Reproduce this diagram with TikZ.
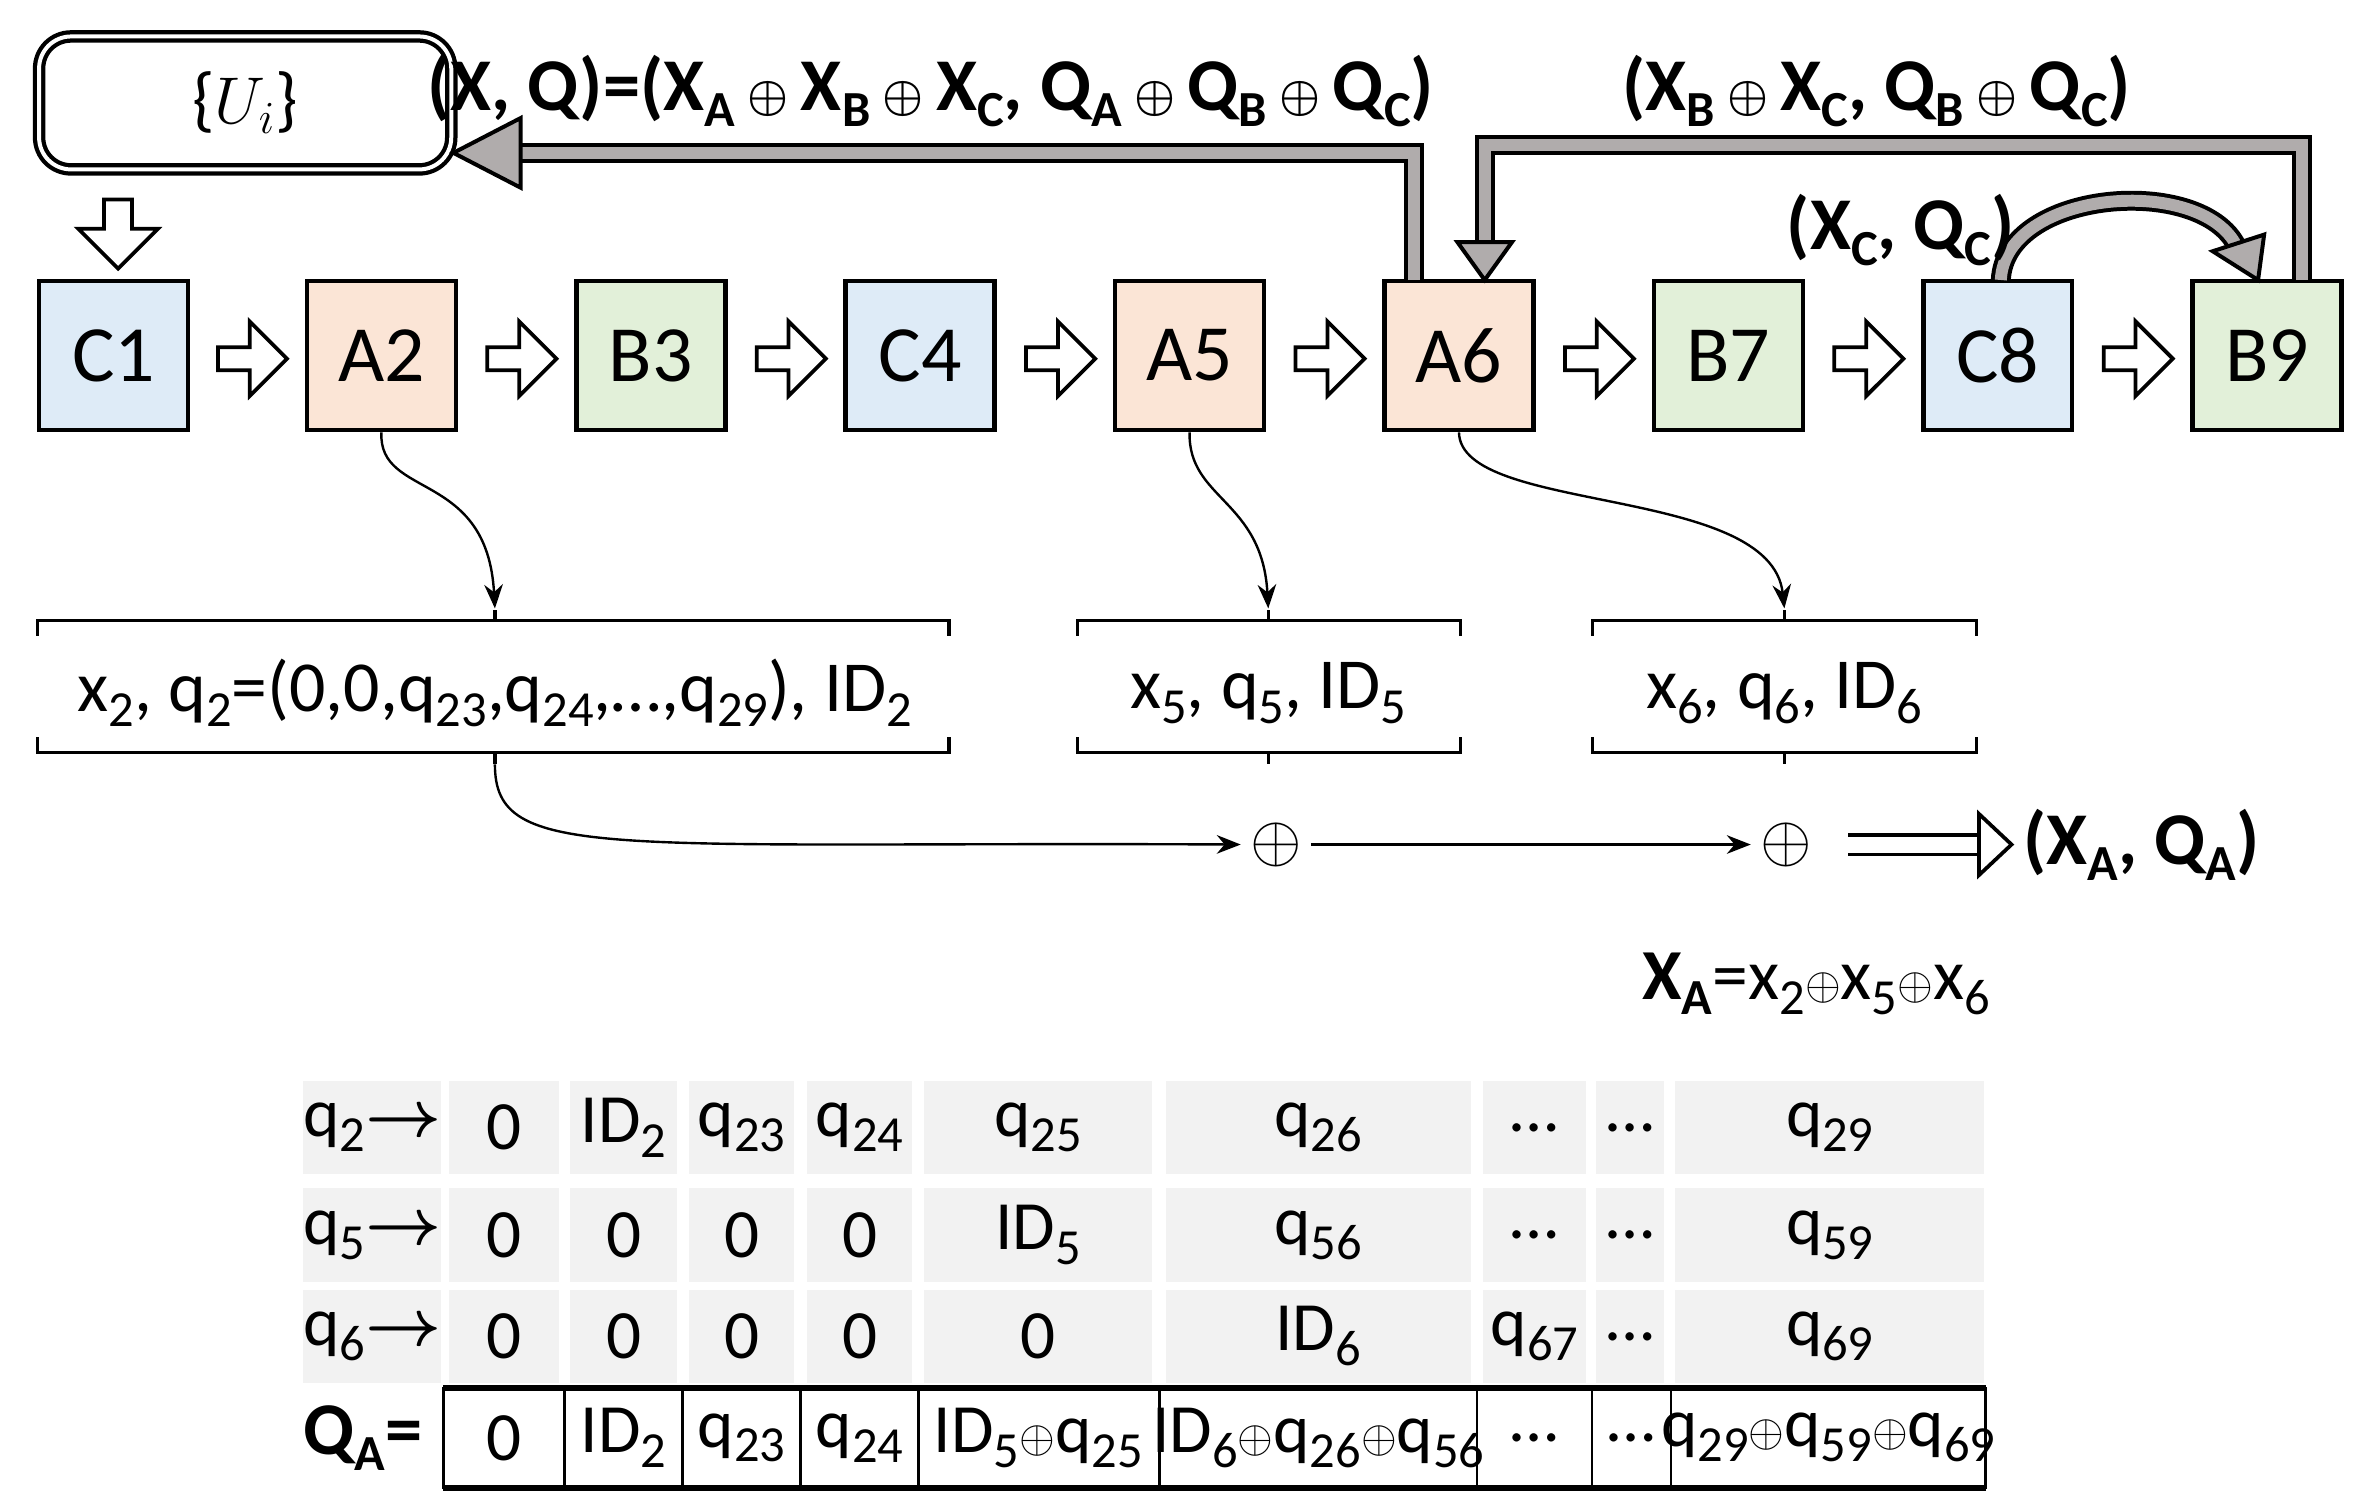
\documentclass[tikz,border=0pt]{standalone}
\usepackage{amsmath}
\usepackage{fontspec}
\setmainfont{Carlito}
\usetikzlibrary{shapes.arrows,arrows.meta}
\newcommand\su[1]{\raisebox{-0.45ex}{\fontsize{19}{19}\selectfont #1}}
\newcommand\op{\,{\fontsize{16}{16}\selectfont$\boldsymbol\oplus$}\,}
\newcommand\opn{{\fontsize{16}{16}\selectfont$\oplus$}}
\begin{document}
\begin{tikzpicture}[x=0.02cm,y=-0.02cm,
  box/.style={draw,line width=1.7pt,minimum width=56pt,minimum height=56pt,font=\fontsize{30}{30}\selectfont},
  cb/.style={box,fill={rgb,255:red,222;green,235;blue,247}},
  ob/.style={box,fill={rgb,255:red,251;green,229;blue,214}},
  gb/.style={box,fill={rgb,255:red,226;green,240;blue,217}},
  sa/.style={single arrow,draw,line width=1.4pt,fill=white,minimum height=26pt,minimum width=28pt,single arrow head extend=6pt,inner sep=2pt},
  big/.style={font=\fontsize{28}{28}\selectfont\bfseries},
  txt/.style={font=\fontsize{27}{27}\selectfont},
  gr/.style={double={rgb,255:red,176;green,172;blue,172},double distance=4.5pt,line width=1.5pt},
  gh/.style={draw,line width=1.5pt,fill={rgb,255:red,176;green,172;blue,172}},
  cell/.style={fill={rgb,255:red,242;green,242;blue,242},minimum height=35pt,inner sep=0pt,font=\fontsize{26}{26}\selectfont},
  qc/.style={minimum height=37pt,inner sep=0pt,font=\fontsize{26}{26}\selectfont},
  cv/.style={line width=0.9pt,-{Stealth[length=9pt,width=7pt]}}]
\useasboundingbox (0,0) rectangle (1560,995);
% Ui box
\node[draw,double,double distance=1.5pt,line width=1.6pt,rounded corners=12pt,minimum width=155pt,minimum height=50pt,txt] (U) at (162,68) {\{$U_i$\}};
\node[single arrow,draw,line width=1.4pt,shape border rotate=270,minimum height=26pt,minimum width=30pt,single arrow head extend=5pt,inner sep=2pt] (d) at (78,150) {};
% boxes
\node[cb] (C1) at (75,235) {C1};
\node[ob] (A2) at (252,235) {A2};
\node[gb] (B3) at (430,235) {B3};
\node[cb] (C4) at (608,235) {C4};
\node[ob] (A5) at (786,235) {A5};
\node[ob] (A6) at (964,235) {A6};
\node[gb] (B7) at (1142,235) {B7};
\node[cb] (C8) at (1320,235) {C8};
\node[gb] (B9) at (1498,235) {B9};
\foreach \x/\n in {163/1,341/2,519/3,697/4,875/5,1053/6,1231/7,1409/8}{\node[sa] (s\n) at (\x,237) {};}
% gray arrow 1
\coordinate (g1a) at (934,185); \coordinate (g1b) at (934,101); \coordinate (g1c) at (344,101);
\draw[gr] (g1a) -- (g1b) -- (g1c);
\draw[gh] (344,78) -- (U.east |- 0,101) -- (344,124) -- cycle;
\node[big] (L1) at (615,60) {(X, Q)=(X\su{A}\op X\su{B}\op X\su{C}, Q\su{A}\op Q\su{B}\op Q\su{C})};
% gray arrow 2
\coordinate (g2a) at (1521,185); \coordinate (g2b) at (1521,96); \coordinate (g2c) at (981,96); \coordinate (g2d) at (981,162);
\draw[gr] (g2a) -- (g2b) -- (g2c) -- (g2d);
\draw[gh] (963,160) -- (981,185) -- (999,160) -- cycle;
\node[big] (L2) at (1240,60) {(X\su{B}\op X\su{C}, Q\su{B}\op Q\su{C})};
% arc
\coordinate (a0) at (1322,185); \coordinate (a1) at (1478,163);
\draw[gr] (a0) .. controls (1325,125) and (1455,115) .. (a1);
\draw[gh] (1462,166) -- (1492,185) -- (1496,155) -- cycle;
\node[big] (L3) at (1256,152) {(X\su{C}, Q\su{C})};
% brackets
\foreach \a/\b/\c/\n in {25/627/327/1,712/965/838/2,1052/1306/1179/3}{
  \draw[line width=1.2pt] (\a,420)--(\a,410)--(\b,410)--(\b,420) (\c,410)--(\c,403);
  \draw[line width=1.2pt] (\a,487)--(\a,497)--(\b,497)--(\b,487) (\c,497)--(\c,505);
  \coordinate (t\n) at (\c,402); \coordinate (b\n) at (\c,505);}
\node[txt] (T1) at (327,458) {x\su{2}, q\su{2}=(0,0,q\su{23},q\su{24},…,q\su{29}), ID\su{2}};
\node[txt] (T2) at (838,458) {x\su{5}, q\su{5}, ID\su{5}};
\node[txt] (T3) at (1179,458) {x\su{6}, q\su{6}, ID\su{6}};
\draw[cv] (A2.south) .. controls (250,330) and (322,310) .. (t1);
\draw[cv] (A5.south) .. controls (785,330) and (834,330) .. (t2);
\draw[cv] (A6.south) .. controls (965,340) and (1170,320) .. (t3);
% xor chain
\node[txt] (o1) at (843,558) {$\oplus$};
\node[txt] (o2) at (1180,558) {$\oplus$};
\draw[cv] (b1) .. controls (327,570) and (400,556) .. (o1.west);
\draw[cv] (o1.east) -- (o2.west);
\node[big] (XA) at (1415,558) {(X\su{A}, Q\su{A})};
\draw[-{Triangle[open,length=14pt,width=26pt]},double,double distance=6pt,line width=1.4pt] (o2.east)++(18,0) coordinate (dd) -- (XA.west);
\node[txt] (F) at (1200,650) {\textbf{X\su{A}}=x\su{2}\opn x\su{5}\opn x\su{6}};
% table
\def\cols{333/73,412/71,490/70,568/70,686/151,871/202,1014/68,1077/45,1209/205}
\foreach \y/\r/\lab in {745/1/q\su{2},816/2/q\su{5},883/3/q\su{6}}{
  \node[cell,minimum width=49pt,anchor=center] (r\r l) at (246,\y) {\lab$\boldsymbol\rightarrow$};}
\foreach \x/\w [count=\i] in \cols{
  \node[cell,minimum width=\w*0.567pt] (c1\i) at (\x,745) {};
  \node[cell,minimum width=\w*0.567pt] (c2\i) at (\x,816) {};
  \node[cell,minimum width=\w*0.567pt] (c3\i) at (\x,883) {};}
\foreach \t [count=\i] in {0,ID\su{2},q\su{23},q\su{24},q\su{25},q\su{26},…,…,q\su{29}}{\node[font=\fontsize{26}{26}\selectfont] at (c1\i) {\t};}
\foreach \t [count=\i] in {0,0,0,0,ID\su{5},q\su{56},…,…,q\su{59}}{\node[font=\fontsize{26}{26}\selectfont] at (c2\i) {\t};}
\foreach \t [count=\i] in {0,0,0,0,0,ID\su{6},q\su{67},…,q\su{69}}{\node[font=\fontsize{26}{26}\selectfont] at (c3\i) {\t};}
\node[big] (QL) at (240,950) {Q\su{A}=};
\draw[line width=0.9pt] (293,917) rectangle (1312,983);
\draw[line width=2.4pt] (293,917) -- (1312,917) (293,983) -- (1312,983);
\foreach \x in {373,451,529,607,766,976,1052,1104}{\draw[line width=0.9pt] (\x,917)--(\x,983);}
\foreach \x/\t in {333/0,412/ID\su{2},490/q\su{23},568/q\su{24},686/ID\su{5}\opn q\su{25},871/ID\su{6}\opn q\su{26}\opn q\su{56},1014/…,1078/…,1208/q\su{29}\opn q\su{59}\opn q\su{69}}{\node[qc] at (\x,950) {\t};}
\end{tikzpicture}
\end{document}
